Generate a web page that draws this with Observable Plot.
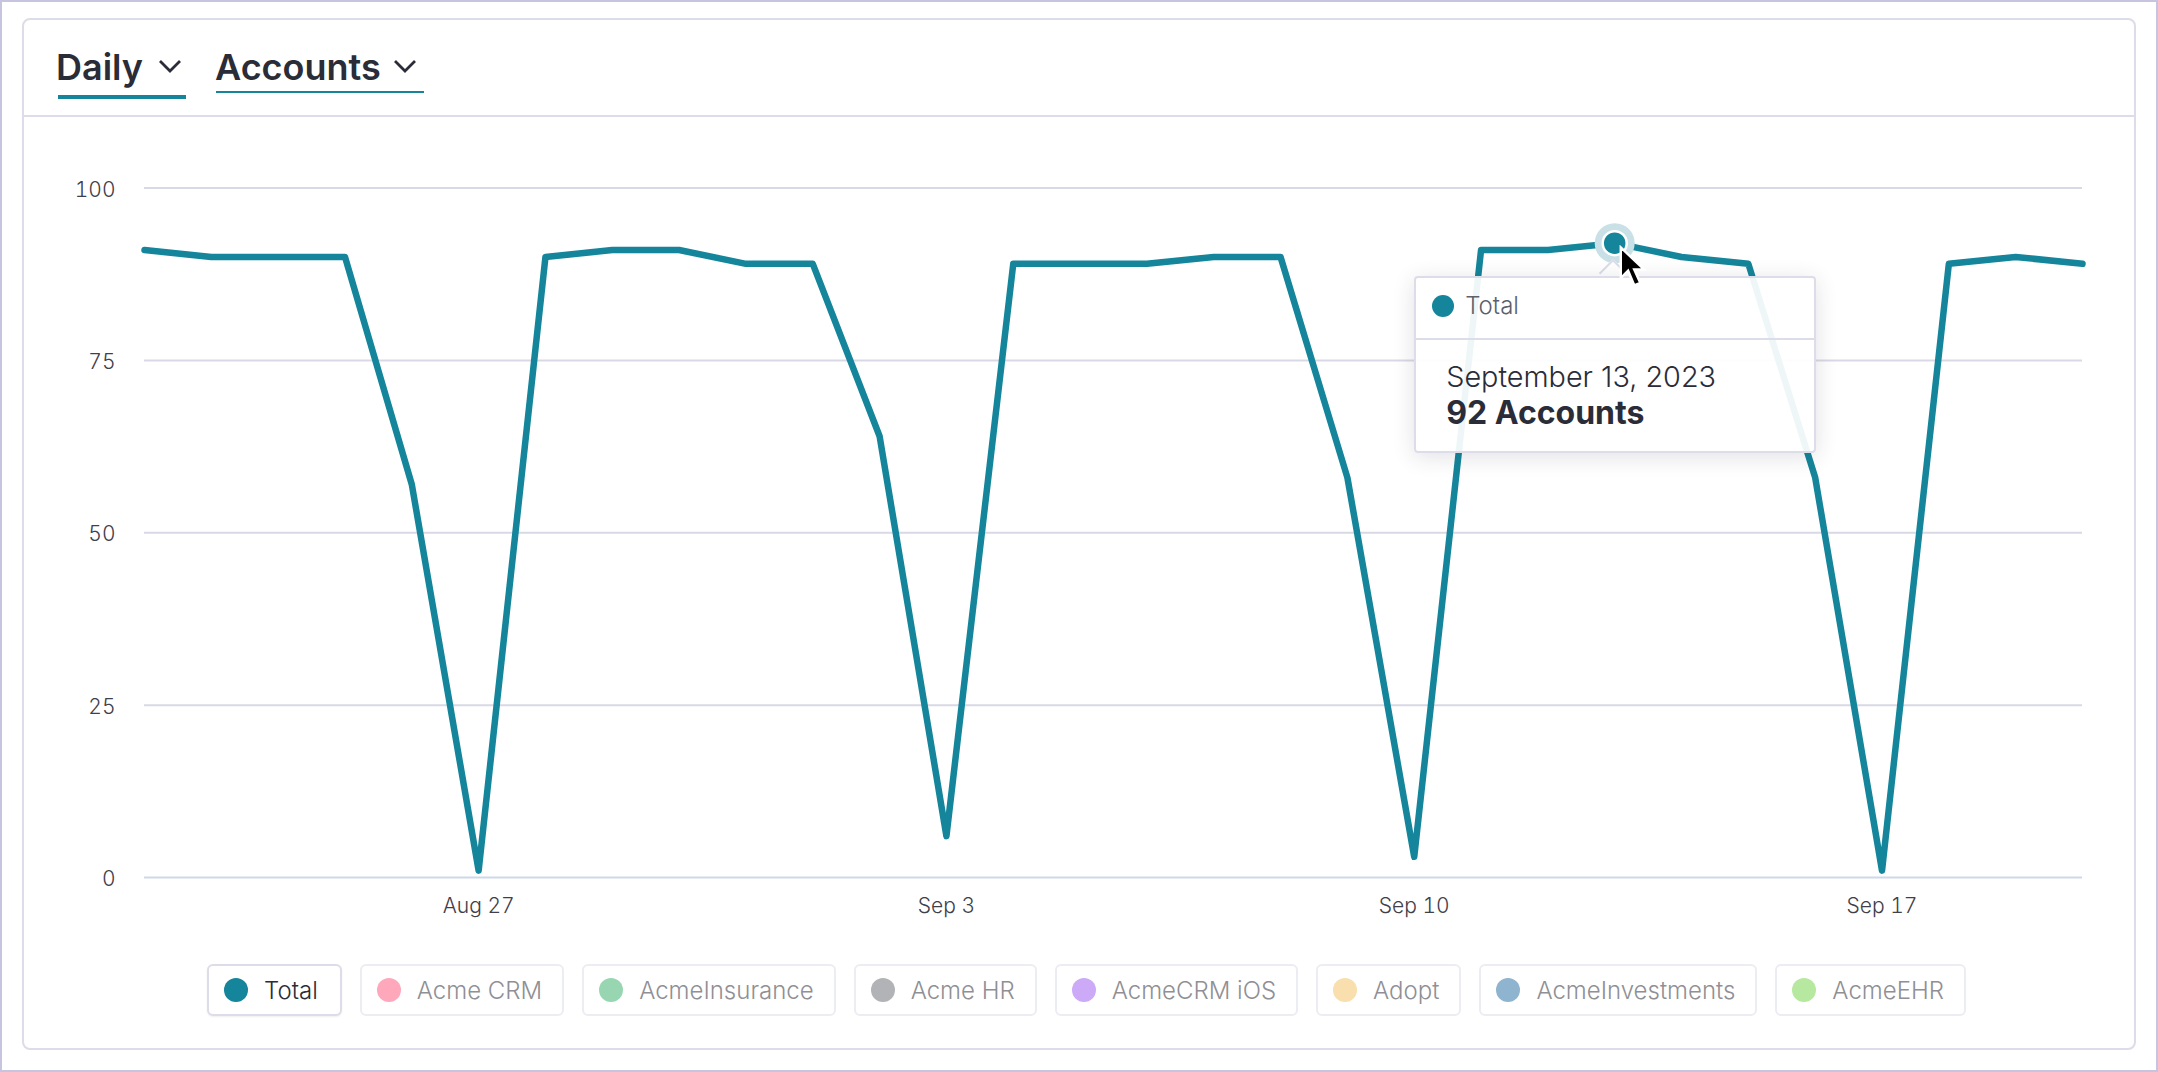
<!DOCTYPE html>
<html>
<head>
<meta charset="utf-8">
<script src="https://cdn.jsdelivr.net/npm/d3@7"></script>
<script src="https://cdn.jsdelivr.net/npm/@observablehq/plot@0.6"></script>
<style>
html,body{margin:0;padding:0;background:#fff;font-family:Inter,sans-serif;}
#page{position:relative;width:2158px;height:1072px;overflow:hidden;box-sizing:border-box;border:2px solid #c6c4de;background:#fff;}
#card{position:absolute;left:20px;top:16px;width:2114px;height:1032px;box-sizing:border-box;border:2px solid #dcdde8;border-radius:8px;}
#hdr{position:absolute;left:0;right:0;top:0;height:95px;border-bottom:2px solid #dcdde8;}
.sel{position:absolute;top:25px;font-size:36px;font-weight:600;color:#2a2c38;line-height:44px;white-space:nowrap;}
.sel svg{position:absolute;top:13px;}
.ul{position:absolute;background:#14859a;}
#plot{position:absolute;left:0;top:0;}
#plot svg{display:block;}
#legend{position:absolute;left:0;top:962px;width:2169px;display:flex;justify-content:center;gap:18px;}
.chip{display:flex;align-items:center;height:52px;box-sizing:border-box;border:2px solid #ecedf2;border-radius:6px;padding:0 20px 0 15px;font-size:24px;font-weight:300;color:#8f8f95;background:#fff;white-space:nowrap;}
.chip.on{border-color:#dcdde8;color:#2a2c38;box-shadow:0 1px 2px #0001;padding-right:22px;}
.chip i{width:24px;height:24px;border-radius:50%;margin-right:16px;display:block;}
#tip{position:absolute;width:402px;height:177px;box-sizing:border-box;border:2px solid #dcdde8;border-radius:4px;background:rgba(255,255,255,.93);box-shadow:0 4px 22px rgba(40,44,70,.14);}
#tip .h{position:absolute;left:0;right:0;top:0;height:60px;border-bottom:2px solid #dcdde8;}
#tip .d{position:absolute;left:16px;top:17px;width:22px;height:22px;border-radius:50%;background:#14859a;}
#tip .t{position:absolute;left:49px;top:14px;font-size:24px;line-height:28px;font-weight:300;color:#5d5f6c;}
#tip .a{position:absolute;left:30px;top:82px;font-size:28.8px;line-height:34px;font-weight:300;color:#2a2c38;white-space:nowrap;}
#tip .b{position:absolute;left:30px;top:116px;font-size:32px;line-height:38px;font-weight:700;color:#2a2c38;white-space:nowrap;}
#arrow{position:absolute;width:18px;height:18px;background:#fff;border:2px solid #dcdde8;border-right:none;border-bottom:none;transform:rotate(45deg);}
#cur{position:absolute;}
</style>
</head>
<body>
<div id="page">
  <div id="card">
    <div id="hdr">
      <div class="sel" style="left:32px">Daily<svg style="left:102px" width="24" height="16" viewBox="0 0 24 16"><path d="M2 3 L12 13 L22 3" fill="none" stroke="#2a2c38" stroke-width="2.8"/></svg></div>
      <div class="ul" style="left:34px;top:75px;width:128px;height:4px"></div>
      <div class="sel" style="left:191px">Accounts<svg style="left:178px" width="24" height="16" viewBox="0 0 24 16"><path d="M2 3 L12 13 L22 3" fill="none" stroke="#2a2c38" stroke-width="2.8"/></svg></div>
      <div class="ul" style="left:192px;top:71px;width:208px;height:2px"></div>
    </div>
  </div>
  <div id="plot"></div>
  <div id="legend"></div>
</div>
<script>
const startDate = "2023-08-22";
const accounts = [91,90,90,90,57,1,90,91,91,89,89,64,6,89,89,89,90,90,58,3,91,91,92,90,89,58,1,89,90,89];
const yTicks = [0,25,50,75,100];
const xTickDates = ["2023-08-27","2023-09-03","2023-09-10","2023-09-17"];
const legendNames = ["Total","Acme CRM","AcmeInsurance","Acme HR","AcmeCRM iOS","Adopt","AcmeInvestments","AcmeEHR"];
const legendColors = ["#14859a","#ffa8bb","#98d6b2","#b2b3b6","#cdaaf7","#f8dfad","#8fb4cf","#b7e8a0"];
const hoverDate = "2023-09-13";
const hoverValue = 92;
const teal = "#14859a";

const rows = accounts.map((v,i)=>({date:d3.utcDay.offset(new Date(startDate+"T00:00:00Z"),i),value:v}));
const hover = [{date:new Date(hoverDate+"T00:00:00Z"),value:hoverValue}];

const chart = Plot.plot({
  width:2154,height:1000,
  marginLeft:142,marginRight:74,marginTop:185.5,marginBottom:125,
  style:{background:"transparent",fontFamily:"Inter, sans-serif",fontSize:"20px",fontWeight:300,color:"#3f404a",overflow:"visible"},
  x:{type:"utc",domain:[rows[0].date,rows[rows.length-1].date]},
  y:{domain:[0,100]},
  marks:[
    Plot.ruleY(yTicks.filter(d=>d>0),{stroke:"#d9d9e6",strokeWidth:2}),
    Plot.ruleY([0],{stroke:"#cfd7e8",strokeWidth:2}),
    Plot.axisY({ticks:yTicks,tickSize:0,tickPadding:29,label:null,fill:"#3f404a",fontSize:21,dy:2}),
    Plot.axisX({ticks:xTickDates.map(d=>new Date(d+"T00:00:00Z")),tickFormat:d3.utcFormat("%b %-d"),tickSize:0,tickPadding:21,label:null,fill:"#3f404a",fontSize:21}),
    Plot.line(rows,{x:"date",y:"value",stroke:teal,strokeWidth:6.5,strokeLinejoin:"round",strokeLinecap:"round",curve:"linear"}),
    Plot.dot(hover,{x:"date",y:"value",r:20,fill:"#c8e0e6"}),
    Plot.dot(hover,{x:"date",y:"value",r:12,fill:teal,stroke:"#fff",strokeWidth:2.5})
  ]
});
document.getElementById("plot").appendChild(chart);

const px = chart.scale("x").apply(hover[0].date), py = chart.scale("y").apply(hoverValue);
const page = document.getElementById("page");
const arrow = document.createElement("div"); arrow.id="arrow";
arrow.style.left=(px-11)+"px"; arrow.style.top=(py+20)+"px";
page.appendChild(arrow);
const tip = document.createElement("div"); tip.id="tip";
tip.style.left=(px-200)+"px"; tip.style.top=(py+33)+"px";
const fmt = d3.utcFormat("%B %-d, %Y");
tip.innerHTML=`<div class="h"><div class="d"></div><div class="t">${legendNames[0]}</div></div><div class="a">${fmt(hover[0].date)}</div><div class="b">${hoverValue} Accounts</div>`;
page.appendChild(tip);
const cur = document.createElement("div"); cur.id="cur";
cur.style.left=(px+4)+"px"; cur.style.top=(py+2)+"px";
cur.innerHTML=`<svg width="30" height="44" viewBox="0 0 24 36"><path d="M2 2 L2 27 L8 21 L13 33 L18 31 L13 20 L21 20 Z" fill="#000" stroke="#fff" stroke-width="2"/></svg>`;
page.appendChild(cur);

const legend = document.getElementById("legend");
legendNames.forEach((n,i)=>{
  const c=document.createElement("div"); c.className="chip"+(i===0?" on":"");
  c.innerHTML=`<i style="background:${legendColors[i]}"></i>${n}`;
  legend.appendChild(c);
});
</script>
</body>
</html>
